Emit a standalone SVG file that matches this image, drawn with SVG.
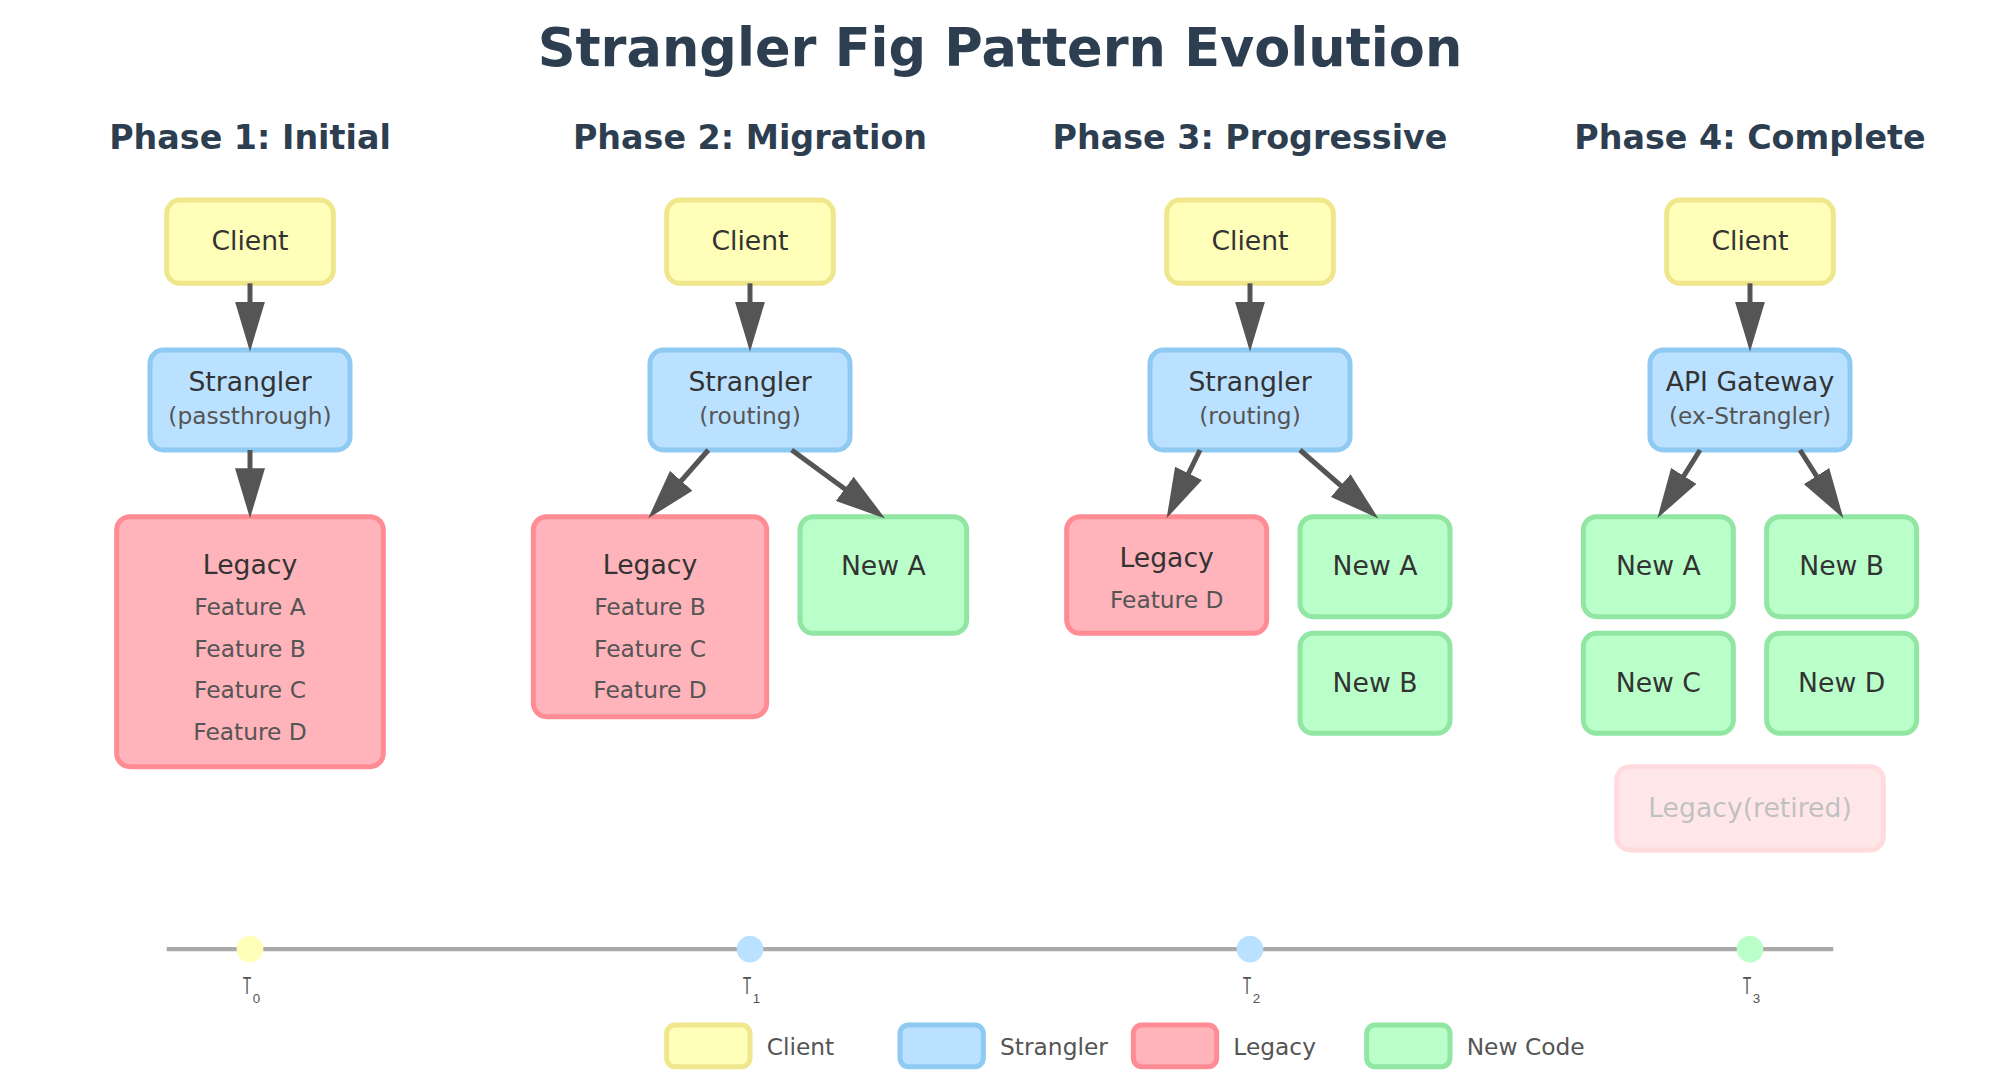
<svg xmlns="http://www.w3.org/2000/svg" width="2000" height="1083" viewBox="0 0 2000 1083">
  <defs>
    <style>
      .title{font-family:"DejaVu Sans",Verdana,sans-serif;font-weight:bold;font-size:31.5px;fill:#2c3e50;text-anchor:middle}
      .phase{font-family:"DejaVu Sans",Verdana,sans-serif;font-weight:bold;font-size:20px;fill:#2c3e50;text-anchor:middle}
      .box{stroke-width:3}
      .client{fill:#ffffba;stroke:#f0e68c}
      .strangler{fill:#bae1ff;stroke:#8ecaf2}
      .legacy{fill:#ffb3ba;stroke:#ff8c94}
      .newcode{fill:#baffc9;stroke:#90e6a2}
      .lbl{font-family:"DejaVu Sans",Verdana,sans-serif;font-size:16px;fill:#333;text-anchor:middle}
      .sub{font-family:"DejaVu Sans",Verdana,sans-serif;font-size:14px;fill:#555;text-anchor:middle}
      .conn{stroke:#555;stroke-width:3;fill:none;marker-end:url(#arrow)}
      .legend-text{font-family:"DejaVu Sans",Verdana,sans-serif;font-size:14px;fill:#555}
      .tick{font-family:"Liberation Sans",Arial,sans-serif;fill:#555}
    </style>
    <marker id="arrow" viewBox="0 0 10 6" refX="8" refY="3" markerWidth="10" markerHeight="6" orient="auto">
      <path d="M0,0 L10,3 L0,6 z" fill="#555"/>
    </marker>
  </defs>
  <rect width="2000" height="1083" fill="#ffffff"/>
  <g transform="scale(1.6666667)">
    <text class="title" x="600" y="39.5">Strangler Fig Pattern Evolution</text>

    <text class="phase" x="150" y="89.5">Phase 1: Initial</text>
    <text class="phase" x="450" y="89.5">Phase 2: Migration</text>
    <text class="phase" x="750" y="89.5">Phase 3: Progressive</text>
    <text class="phase" x="1050" y="89.5">Phase 4: Complete</text>

    <!-- Phase 1 -->
    <g id="p1-client">
      <rect class="box client" x="100" y="120" width="100" height="50" rx="8"/>
      <text class="lbl" x="150" y="150">Client</text>
    </g>
    <g id="p1-strangler">
      <rect class="box strangler" x="90" y="210" width="120" height="60" rx="8"/>
      <text class="lbl" x="150" y="234.5">Strangler</text>
      <text class="sub" x="150" y="254.5">(passthrough)</text>
    </g>
    <g id="p1-legacy">
      <rect class="box legacy" x="70" y="310" width="160" height="150" rx="8"/>
      <text class="lbl" x="150" y="344.5">Legacy</text>
      <text class="sub" x="150" y="369">Feature A</text>
      <text class="sub" x="150" y="394">Feature B</text>
      <text class="sub" x="150" y="419">Feature C</text>
      <text class="sub" x="150" y="444">Feature D</text>
    </g>

    <!-- Phase 2 -->
    <g id="p2-client">
      <rect class="box client" x="400" y="120" width="100" height="50" rx="8"/>
      <text class="lbl" x="450" y="150">Client</text>
    </g>
    <g id="p2-strangler">
      <rect class="box strangler" x="390" y="210" width="120" height="60" rx="8"/>
      <text class="lbl" x="450" y="234.5">Strangler</text>
      <text class="sub" x="450" y="254.5">(routing)</text>
    </g>
    <g id="p2-legacy">
      <rect class="box legacy" x="320" y="310" width="140" height="120" rx="8"/>
      <text class="lbl" x="390" y="344.5">Legacy</text>
      <text class="sub" x="390" y="369">Feature B</text>
      <text class="sub" x="390" y="394">Feature C</text>
      <text class="sub" x="390" y="419">Feature D</text>
    </g>
    <g id="p2-new-a">
      <rect class="box newcode" x="480" y="310" width="100" height="70" rx="8"/>
      <text class="lbl" x="530" y="345">New A</text>
    </g>

    <!-- Phase 3 -->
    <g id="p3-client">
      <rect class="box client" x="700" y="120" width="100" height="50" rx="8"/>
      <text class="lbl" x="750" y="150">Client</text>
    </g>
    <g id="p3-strangler">
      <rect class="box strangler" x="690" y="210" width="120" height="60" rx="8"/>
      <text class="lbl" x="750" y="234.5">Strangler</text>
      <text class="sub" x="750" y="254.5">(routing)</text>
    </g>
    <g id="p3-legacy">
      <rect class="box legacy" x="640" y="310" width="120" height="70" rx="8"/>
      <text class="lbl" x="700" y="340">Legacy</text>
      <text class="sub" x="700" y="365">Feature D</text>
    </g>
    <g id="p3-new-a">
      <rect class="box newcode" x="780" y="310" width="90" height="60" rx="8"/>
      <text class="lbl" x="825" y="345">New A</text>
    </g>
    <g id="p3-new-b">
      <rect class="box newcode" x="780" y="380" width="90" height="60" rx="8"/>
      <text class="lbl" x="825" y="415">New B</text>
    </g>

    <!-- Phase 4 -->
    <g id="p4-client">
      <rect class="box client" x="1000" y="120" width="100" height="50" rx="8"/>
      <text class="lbl" x="1050" y="150">Client</text>
    </g>
    <g id="p4-gateway">
      <rect class="box strangler" x="990" y="210" width="120" height="60" rx="8"/>
      <text class="lbl" x="1050" y="234.5">API Gateway</text>
      <text class="sub" x="1050" y="254.5">(ex-Strangler)</text>
    </g>
    <g id="p4-new-a">
      <rect class="box newcode" x="950" y="310" width="90" height="60" rx="8"/>
      <text class="lbl" x="995" y="345">New A</text>
    </g>
    <g id="p4-new-b">
      <rect class="box newcode" x="1060" y="310" width="90" height="60" rx="8"/>
      <text class="lbl" x="1105" y="345">New B</text>
    </g>
    <g id="p4-new-c">
      <rect class="box newcode" x="950" y="380" width="90" height="60" rx="8"/>
      <text class="lbl" x="995" y="415">New C</text>
    </g>
    <g id="p4-new-d">
      <rect class="box newcode" x="1060" y="380" width="90" height="60" rx="8"/>
      <text class="lbl" x="1105" y="415">New D</text>
    </g>
    <g id="p4-legacy-retired" opacity="0.3">
      <rect class="box legacy" x="970" y="460" width="160" height="50" rx="8"/>
      <text class="lbl" x="1050" y="490">Legacy(retired)</text>
    </g>

    <!-- Connectors -->
    <g id="connectors">
      <line class="conn" x1="150" y1="170" x2="150" y2="205"/>
      <line class="conn" x1="150" y1="270" x2="150" y2="305"/>
      <line class="conn" x1="450" y1="170" x2="450" y2="205"/>
      <line class="conn" x1="425" y1="270" x2="392.9" y2="306.5"/>
      <line class="conn" x1="475" y1="270" x2="526.2" y2="307.5"/>
      <line class="conn" x1="750" y1="170" x2="750" y2="205"/>
      <line class="conn" x1="720" y1="270" x2="702.6" y2="305.6"/>
      <line class="conn" x1="780" y1="270" x2="822.5" y2="307.1"/>
      <line class="conn" x1="1050" y1="170" x2="1050" y2="205"/>
      <line class="conn" x1="1020" y1="270" x2="997.6" y2="305.9"/>
      <line class="conn" x1="1080" y1="270" x2="1102.8" y2="305.9"/>
    </g>

    <!-- Timeline -->
    <g id="timeline">
      <line x1="100" y1="569.5" x2="1100" y2="569.5" stroke="#aaaaaa" stroke-width="2.5"/>
      <circle cx="150" cy="569.5" r="8" fill="#ffffba"/>
      <circle cx="450" cy="569.5" r="8" fill="#bae1ff"/>
      <circle cx="750" cy="569.5" r="8" fill="#bae1ff"/>
      <circle cx="1050" cy="569.5" r="8" fill="#baffc9"/>
      <text class="tick" font-size="14" text-anchor="middle" transform="translate(148.2 596.5) scale(0.6 1)">T</text>
      <text class="tick" font-size="8" x="151.6" y="601.5">0</text>
      <text class="tick" font-size="14" text-anchor="middle" transform="translate(448.2 596.5) scale(0.6 1)">T</text>
      <text class="tick" font-size="8" x="451.6" y="601.5">1</text>
      <text class="tick" font-size="14" text-anchor="middle" transform="translate(748.2 596.5) scale(0.6 1)">T</text>
      <text class="tick" font-size="8" x="751.6" y="601.5">2</text>
      <text class="tick" font-size="14" text-anchor="middle" transform="translate(1048.2 596.5) scale(0.6 1)">T</text>
      <text class="tick" font-size="8" x="1051.6" y="601.5">3</text>
    </g>

    <!-- Legend -->
    <g id="legend">
      <rect class="box client" x="400" y="615" width="50" height="25" rx="5"/>
      <text class="legend-text" x="460" y="633">Client</text>
      <rect class="box strangler" x="540" y="615" width="50" height="25" rx="5"/>
      <text class="legend-text" x="600" y="633">Strangler</text>
      <rect class="box legacy" x="680" y="615" width="50" height="25" rx="5"/>
      <text class="legend-text" x="740" y="633">Legacy</text>
      <rect class="box newcode" x="820" y="615" width="50" height="25" rx="5"/>
      <text class="legend-text" x="880" y="633">New Code</text>
    </g>
  </g>
</svg>
